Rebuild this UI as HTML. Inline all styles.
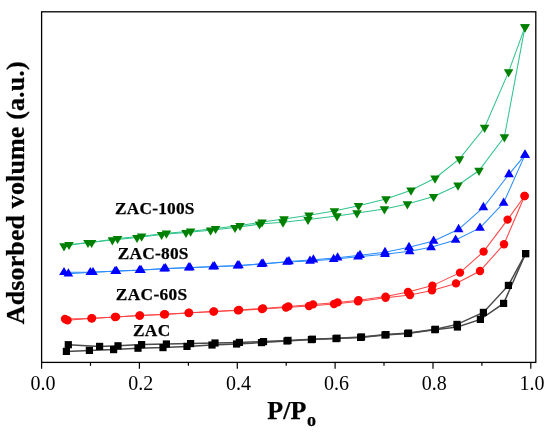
<!DOCTYPE html><html><head><meta charset="utf-8"><title>Adsorption isotherms</title><style>html,body{margin:0;padding:0;background:#fff}body{width:550px;height:432px;overflow:hidden}svg{display:block}text{font-family:"Liberation Serif","Times New Roman",serif;fill:#000}.b{font-weight:bold;stroke:#000;stroke-width:0.25px}</style></head><body>
<svg width="550" height="432" viewBox="0 0 550 432">
<rect width="550" height="432" fill="#fff"/>
<polyline fill="none" stroke="#4a4a4a" stroke-width="1.5" points="66.4,351.4 89.4,350.4 113.6,349.6 138.0,348.2 163.0,347.6 187.0,346.4 212.0,345.0 236.6,344.0 261.5,342.6 287.0,341.0 311.4,339.6 336.0,338.6 360.6,337.4 385.0,335.0 407.6,333.5 434.8,329.7 457.4,327.0 480.4,319.4 503.6,303.4 525.6,253.6"/>
<polyline fill="none" stroke="#4a4a4a" stroke-width="1.5" points="525.6,253.6 508.4,285.4 483.4,312.4 457.0,324.4 435.4,329.3 408.6,333.1 386.0,334.6 361.5,337.0 337.0,338.2 312.4,339.2 288.0,340.4 263.5,341.6 239.4,342.4 215.0,343.0 190.6,343.6 166.4,344.0 141.6,344.6 118.0,345.8 99.6,346.4 68.3,344.7"/>
<polyline fill="none" stroke="#ff4444" stroke-width="1.05" points="65.0,319.0 91.4,318.4 115.0,317.0 139.4,315.6 164.0,314.4 188.6,313.0 213.4,311.6 238.0,310.4 262.0,309.0 286.0,307.6 309.0,306.0 334.0,304.0 358.0,301.4 385.6,297.8 410.0,295.0 432.0,290.4 456.0,283.4 480.0,271.0 504.0,244.2 524.6,196.0"/>
<polyline fill="none" stroke="#ff4444" stroke-width="1.05" points="524.6,196.0 507.6,219.6 483.6,251.6 460.0,272.6 432.4,285.6 408.0,292.0 385.6,296.6 358.5,300.2 337.6,302.4 313.0,304.4 288.4,306.4 263.0,308.4 239.0,310.0 214.0,311.4 189.0,312.8 165.0,314.2 140.0,315.5 116.0,316.9 92.0,318.3 67.5,320.3"/>
<polyline fill="none" stroke="#2a8cff" stroke-width="1.05" points="64.0,272.3 90.3,272.3 115.0,271.3 139.4,270.3 164.0,268.7 188.6,267.7 213.0,266.7 237.4,265.7 261.5,264.1 287.0,261.9 310.0,260.9 333.6,259.3 358.0,256.7 385.0,254.3 409.6,251.3 431.0,247.3 455.6,239.9 480.0,227.9 503.6,202.9 525.0,154.9"/>
<polyline fill="none" stroke="#2a8cff" stroke-width="1.05" points="525.0,154.9 509.0,174.3 483.4,207.3 458.6,229.3 433.6,240.9 409.0,247.3 385.0,252.3 360.0,255.3 337.6,257.7 313.4,259.7 289.0,261.5 263.0,263.7 239.0,265.5 214.5,266.5 190.0,267.5 165.5,268.5 141.0,270.1 116.5,271.1 93.0,272.3 68.4,273.7"/>
<polyline fill="none" stroke="#30c48c" stroke-width="1.05" points="64.0,246.0 88.0,242.6 112.4,240.0 137.0,237.6 161.6,234.6 186.0,232.6 210.6,230.2 235.0,227.6 259.5,224.1 283.0,222.2 308.0,219.6 337.0,216.0 357.0,213.0 384.4,209.0 407.4,204.0 433.6,196.6 458.0,185.3 479.0,170.5 504.4,136.9 525.0,26.9"/>
<polyline fill="none" stroke="#30c48c" stroke-width="1.05" points="525.0,26.9 508.6,71.9 484.6,127.5 459.5,158.9 435.0,178.2 411.0,190.2 386.0,199.0 358.5,205.8 334.4,211.0 309.0,215.2 284.0,219.0 262.0,222.1 240.0,225.6 215.6,228.6 190.6,231.2 166.4,233.2 141.6,236.2 117.6,238.6 91.6,242.6 69.0,244.6"/>
<g fill="#000"><rect x="62.8" y="347.8" width="7.2" height="7.2"/><rect x="85.8" y="346.8" width="7.2" height="7.2"/><rect x="110.0" y="346.0" width="7.2" height="7.2"/><rect x="134.4" y="344.6" width="7.2" height="7.2"/><rect x="159.4" y="344.0" width="7.2" height="7.2"/><rect x="183.4" y="342.8" width="7.2" height="7.2"/><rect x="208.4" y="341.4" width="7.2" height="7.2"/><rect x="233.0" y="340.4" width="7.2" height="7.2"/><rect x="257.9" y="339.0" width="7.2" height="7.2"/><rect x="283.4" y="337.4" width="7.2" height="7.2"/><rect x="307.8" y="336.0" width="7.2" height="7.2"/><rect x="332.4" y="335.0" width="7.2" height="7.2"/><rect x="357.0" y="333.8" width="7.2" height="7.2"/><rect x="381.4" y="331.4" width="7.2" height="7.2"/><rect x="404.0" y="329.9" width="7.2" height="7.2"/><rect x="431.2" y="326.1" width="7.2" height="7.2"/><rect x="453.8" y="323.4" width="7.2" height="7.2"/><rect x="476.8" y="315.8" width="7.2" height="7.2"/><rect x="500.0" y="299.8" width="7.2" height="7.2"/><rect x="522.0" y="250.0" width="7.2" height="7.2"/><rect x="522.0" y="250.0" width="7.2" height="7.2"/><rect x="504.8" y="281.8" width="7.2" height="7.2"/><rect x="479.8" y="308.8" width="7.2" height="7.2"/><rect x="453.4" y="320.8" width="7.2" height="7.2"/><rect x="431.8" y="325.7" width="7.2" height="7.2"/><rect x="405.0" y="329.5" width="7.2" height="7.2"/><rect x="382.4" y="331.0" width="7.2" height="7.2"/><rect x="357.9" y="333.4" width="7.2" height="7.2"/><rect x="333.4" y="334.6" width="7.2" height="7.2"/><rect x="308.8" y="335.6" width="7.2" height="7.2"/><rect x="284.4" y="336.8" width="7.2" height="7.2"/><rect x="259.9" y="338.0" width="7.2" height="7.2"/><rect x="235.8" y="338.8" width="7.2" height="7.2"/><rect x="211.4" y="339.4" width="7.2" height="7.2"/><rect x="187.0" y="340.0" width="7.2" height="7.2"/><rect x="162.8" y="340.4" width="7.2" height="7.2"/><rect x="138.0" y="341.0" width="7.2" height="7.2"/><rect x="114.4" y="342.2" width="7.2" height="7.2"/><rect x="96.0" y="342.8" width="7.2" height="7.2"/><rect x="64.7" y="341.1" width="7.2" height="7.2"/></g>
<g fill="#f00"><circle cx="65.0" cy="319.0" r="4.2"/><circle cx="91.4" cy="318.4" r="4.2"/><circle cx="115.0" cy="317.0" r="4.2"/><circle cx="139.4" cy="315.6" r="4.2"/><circle cx="164.0" cy="314.4" r="4.2"/><circle cx="188.6" cy="313.0" r="4.2"/><circle cx="213.4" cy="311.6" r="4.2"/><circle cx="238.0" cy="310.4" r="4.2"/><circle cx="262.0" cy="309.0" r="4.2"/><circle cx="286.0" cy="307.6" r="4.2"/><circle cx="309.0" cy="306.0" r="4.2"/><circle cx="334.0" cy="304.0" r="4.2"/><circle cx="358.0" cy="301.4" r="4.2"/><circle cx="385.6" cy="297.8" r="4.2"/><circle cx="410.0" cy="295.0" r="4.2"/><circle cx="432.0" cy="290.4" r="4.2"/><circle cx="456.0" cy="283.4" r="4.2"/><circle cx="480.0" cy="271.0" r="4.2"/><circle cx="504.0" cy="244.2" r="4.2"/><circle cx="524.6" cy="196.0" r="4.2"/><circle cx="524.6" cy="196.0" r="4.2"/><circle cx="507.6" cy="219.6" r="4.2"/><circle cx="483.6" cy="251.6" r="4.2"/><circle cx="460.0" cy="272.6" r="4.2"/><circle cx="432.4" cy="285.6" r="4.2"/><circle cx="408.0" cy="292.0" r="4.2"/><circle cx="385.6" cy="296.6" r="4.2"/><circle cx="358.5" cy="300.2" r="4.2"/><circle cx="337.6" cy="302.4" r="4.2"/><circle cx="313.0" cy="304.4" r="4.2"/><circle cx="288.4" cy="306.4" r="4.2"/><circle cx="263.0" cy="308.4" r="4.2"/><circle cx="239.0" cy="310.0" r="4.2"/><circle cx="214.0" cy="311.4" r="4.2"/><circle cx="189.0" cy="312.8" r="4.2"/><circle cx="165.0" cy="314.2" r="4.2"/><circle cx="140.0" cy="315.5" r="4.2"/><circle cx="116.0" cy="316.9" r="4.2"/><circle cx="92.0" cy="318.3" r="4.2"/><circle cx="67.5" cy="320.3" r="4.2"/></g>
<g fill="#00f"><polygon points="64.0,266.9 59.1,275.1 68.8,275.1"/><polygon points="90.3,266.9 85.5,275.1 95.1,275.1"/><polygon points="115.0,265.9 110.2,274.1 119.8,274.1"/><polygon points="139.4,264.9 134.6,273.1 144.2,273.1"/><polygon points="164.0,263.2 159.2,271.5 168.8,271.5"/><polygon points="188.6,262.2 183.8,270.5 193.4,270.5"/><polygon points="213.0,261.2 208.2,269.5 217.8,269.5"/><polygon points="237.4,260.2 232.6,268.5 242.2,268.5"/><polygon points="261.5,258.7 256.6,266.9 266.4,266.9"/><polygon points="287.0,256.5 282.1,264.8 291.9,264.8"/><polygon points="310.0,255.5 305.1,263.8 314.9,263.8"/><polygon points="333.6,253.8 328.8,262.1 338.5,262.1"/><polygon points="358.0,251.2 353.1,259.6 362.9,259.6"/><polygon points="385.0,248.8 380.1,257.1 389.9,257.1"/><polygon points="409.6,245.8 404.8,254.2 414.5,254.2"/><polygon points="431.0,241.8 426.1,250.2 435.9,250.2"/><polygon points="455.6,234.4 450.8,242.8 460.5,242.8"/><polygon points="480.0,222.4 475.1,230.8 484.9,230.8"/><polygon points="503.6,197.4 498.8,205.8 508.5,205.8"/><polygon points="525.0,149.4 520.1,157.8 529.9,157.8"/><polygon points="525.0,149.4 520.1,157.8 529.9,157.8"/><polygon points="509.0,168.8 504.1,177.2 513.9,177.2"/><polygon points="483.4,201.8 478.5,210.2 488.2,210.2"/><polygon points="458.6,223.8 453.8,232.2 463.5,232.2"/><polygon points="433.6,235.4 428.8,243.8 438.5,243.8"/><polygon points="409.0,241.8 404.1,250.2 413.9,250.2"/><polygon points="385.0,246.8 380.1,255.2 389.9,255.2"/><polygon points="360.0,249.8 355.1,258.1 364.9,258.1"/><polygon points="337.6,252.2 332.8,260.5 342.5,260.5"/><polygon points="313.4,254.2 308.5,262.5 318.2,262.5"/><polygon points="289.0,256.1 284.1,264.3 293.9,264.3"/><polygon points="263.0,258.2 258.1,266.5 267.9,266.5"/><polygon points="239.0,260.1 234.2,268.3 243.8,268.3"/><polygon points="214.5,261.1 209.7,269.3 219.3,269.3"/><polygon points="190.0,262.1 185.2,270.3 194.8,270.3"/><polygon points="165.5,263.1 160.7,271.3 170.3,271.3"/><polygon points="141.0,264.7 136.2,272.9 145.8,272.9"/><polygon points="116.5,265.7 111.7,273.9 121.3,273.9"/><polygon points="93.0,266.9 88.2,275.1 97.8,275.1"/><polygon points="68.4,268.2 63.6,276.5 73.2,276.5"/></g>
<g fill="#008000"><polygon points="64.0,251.5 59.2,243.3 68.8,243.3"/><polygon points="88.0,248.1 83.2,239.9 92.8,239.9"/><polygon points="112.4,245.5 107.6,237.3 117.2,237.3"/><polygon points="137.0,243.1 132.2,234.9 141.8,234.9"/><polygon points="161.6,240.1 156.8,231.9 166.4,231.9"/><polygon points="186.0,238.1 181.2,229.9 190.8,229.9"/><polygon points="210.6,235.7 205.8,227.5 215.4,227.5"/><polygon points="235.0,233.1 230.2,224.9 239.8,224.9"/><polygon points="259.5,229.6 254.7,221.4 264.3,221.4"/><polygon points="283.0,227.7 278.2,219.5 287.8,219.5"/><polygon points="308.0,225.1 303.2,216.9 312.8,216.9"/><polygon points="337.0,221.5 332.2,213.3 341.8,213.3"/><polygon points="357.0,218.5 352.2,210.3 361.8,210.3"/><polygon points="384.4,214.5 379.6,206.3 389.2,206.3"/><polygon points="407.4,209.5 402.6,201.3 412.2,201.3"/><polygon points="433.6,202.1 428.8,193.9 438.4,193.9"/><polygon points="458.0,190.8 453.2,182.6 462.8,182.6"/><polygon points="479.0,176.0 474.2,167.8 483.8,167.8"/><polygon points="504.4,142.4 499.6,134.2 509.2,134.2"/><polygon points="525.0,32.4 520.2,24.2 529.8,24.2"/><polygon points="525.0,32.4 520.2,24.2 529.8,24.2"/><polygon points="508.6,77.4 503.8,69.2 513.4,69.2"/><polygon points="484.6,133.0 479.8,124.8 489.4,124.8"/><polygon points="459.5,164.4 454.7,156.2 464.3,156.2"/><polygon points="435.0,183.7 430.2,175.5 439.8,175.5"/><polygon points="411.0,195.7 406.2,187.5 415.8,187.5"/><polygon points="386.0,204.5 381.2,196.3 390.8,196.3"/><polygon points="358.5,211.3 353.7,203.1 363.3,203.1"/><polygon points="334.4,216.5 329.6,208.3 339.2,208.3"/><polygon points="309.0,220.7 304.2,212.5 313.8,212.5"/><polygon points="284.0,224.5 279.2,216.3 288.8,216.3"/><polygon points="262.0,227.6 257.2,219.4 266.8,219.4"/><polygon points="240.0,231.1 235.2,222.9 244.8,222.9"/><polygon points="215.6,234.1 210.8,225.9 220.4,225.9"/><polygon points="190.6,236.7 185.8,228.5 195.4,228.5"/><polygon points="166.4,238.7 161.6,230.5 171.2,230.5"/><polygon points="141.6,241.7 136.8,233.5 146.4,233.5"/><polygon points="117.6,244.1 112.8,235.9 122.4,235.9"/><polygon points="91.6,248.1 86.8,239.9 96.4,239.9"/><polygon points="69.0,250.1 64.2,241.9 73.8,241.9"/></g>
<rect x="41.6" y="11.8" width="494.2" height="350.6" fill="none" stroke="#000" stroke-width="1.3"/>
<g stroke="#000" stroke-width="1.2"><line x1="41.6" y1="362.4" x2="41.6" y2="368.8"/><line x1="90.5" y1="362.4" x2="90.5" y2="365.8"/><line x1="139.4" y1="362.4" x2="139.4" y2="368.8"/><line x1="188.4" y1="362.4" x2="188.4" y2="365.8"/><line x1="237.3" y1="362.4" x2="237.3" y2="368.8"/><line x1="286.2" y1="362.4" x2="286.2" y2="365.8"/><line x1="335.1" y1="362.4" x2="335.1" y2="368.8"/><line x1="384.0" y1="362.4" x2="384.0" y2="365.8"/><line x1="433.0" y1="362.4" x2="433.0" y2="368.8"/><line x1="481.9" y1="362.4" x2="481.9" y2="365.8"/><line x1="530.8" y1="362.4" x2="530.8" y2="368.8"/></g>
<text x="42.9" y="390.2" font-size="20" text-anchor="middle">0.0</text>
<text x="140.7" y="390.2" font-size="20" text-anchor="middle">0.2</text>
<text x="238.6" y="390.2" font-size="20" text-anchor="middle">0.4</text>
<text x="336.4" y="390.2" font-size="20" text-anchor="middle">0.6</text>
<text x="434.3" y="390.2" font-size="20" text-anchor="middle">0.8</text>
<text x="532.1" y="390.2" font-size="20" text-anchor="middle">1.0</text>
<text class="b" x="114.9" y="214" font-size="17.33" textLength="79.6" lengthAdjust="spacing">ZAC-100S</text>
<text class="b" x="117.7" y="259.2" font-size="17.33" textLength="70.8" lengthAdjust="spacing">ZAC-80S</text>
<text class="b" x="115.8" y="299.5" font-size="17.33" textLength="71.4" lengthAdjust="spacing">ZAC-60S</text>
<text class="b" x="132.9" y="335.8" font-size="17.33" textLength="37.4" lengthAdjust="spacing">ZAC</text>
<text class="b" x="267.3" y="418.8" font-size="26">P/P<tspan font-size="18" dy="6.8" dx="0.6">o</tspan></text>
<text class="b" transform="translate(23.8,324.2) rotate(-90)" font-size="26" textLength="262.8" lengthAdjust="spacing">Adsorbed volume (a.u.)</text>
</svg></body></html>
